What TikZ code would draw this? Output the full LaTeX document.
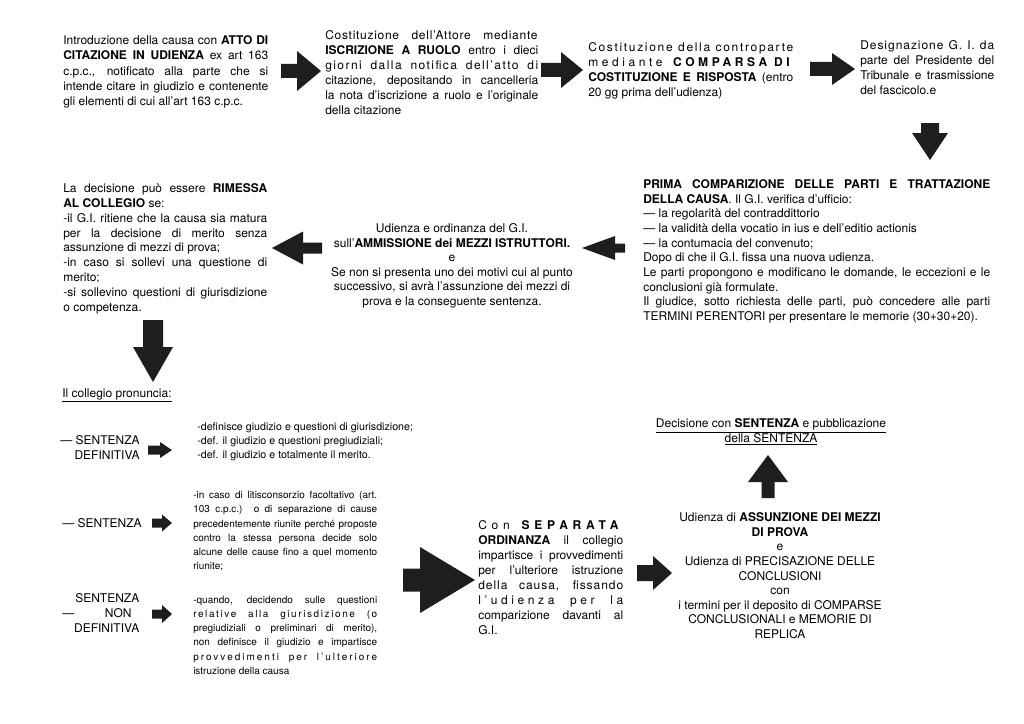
\documentclass[tikz,border=0pt]{standalone}
\usepackage{fontspec}
\setmainfont{TeX Gyre Heros}
\usepackage{tikz}
\hyphenpenalty=10000
\exhyphenpenalty=10000

\definecolor{arrowgray}{HTML}{1E1E1E}
\newcommand{\spaced}[2]{{\addfontfeature{LetterSpace=#1}#2}}

% block arrow: tail x, tail y, angle, length, head length, head half width, shaft half width
\newcommand{\blockarrow}[7]{%
\begin{scope}[shift={(#1,#2)}, rotate=#3]
\fill [arrowgray] (0,-#7) -- ({#4-#5},-#7) -- ({#4-#5},-#6) -- (#4,0) -- ({#4-#5},#6) -- ({#4-#5},#7) -- (0,#7) -- cycle;
\end{scope}}

\begin{document}
\begin{tikzpicture}[x=0.75pt, y=-0.75pt,
  txt/.style={font=\fontsize{9}{11.25}\selectfont, inner sep=0pt, align=justify, anchor=north west},
  lbl/.style={font=\fontsize{9}{11.1}\selectfont, inner sep=0pt},
  small/.style={font=\fontsize{7.5}{10.7}\selectfont, inner sep=0pt, anchor=north west}]
\useasboundingbox [fill=white] (0, 0) rectangle (1024, 724);

% first row
\node [txt, text width=153.75pt, font=\fontsize{9}{11.5}\selectfont] (citazione) at (63, 35.5) {Introduzione della causa con \textbf{ATTO DI}\linebreak \textbf{CITAZIONE IN UDIENZA} ex art 163\linebreak c.p.c., notificato alla parte che si\linebreak intende citare in giudizio e contenente\linebreak gli elementi di cui all’art 163 c.p.c.};
\node [txt, text width=159.75pt] (ruolo) at (325, 30.5) {\spaced{6}{Costituzione dell’Attore mediante}\linebreak \textbf{ISCRIZIONE A RUOLO} entro i dieci\linebreak \spaced{12}{giorni dalla notifica dell’atto di}\linebreak citazione, depositando in cancelleria\linebreak la nota d’iscrizione a ruolo e l’originale\linebreak della citazione};
\node [txt, text width=153.75pt] (comparsa) at (588, 42.5) {\spaced{14}{Costituzione della controparte}\linebreak \spaced{30}{mediante \textbf{COMPARSA DI}}\linebreak \textbf{COSTITUZIONE E RISPOSTA} (entro\linebreak 20 gg prima dell’udienza)};
\node [txt, text width=100.5pt] (designazione) at (860, 40.5) {\spaced{8}{Designazione G. I. da}\linebreak parte del Presidente del\linebreak Tribunale e trasmissione\linebreak del fascicolo.e};

\blockarrow{281}{71}{0}{40}{24}{20}{7}
\blockarrow{541}{70}{0}{42}{22}{18}{7}
\blockarrow{810}{69}{0}{45}{23}{16}{7}
\blockarrow{930}{123}{270}{37}{27}{18}{9}

% second row
\node [txt, text width=260.25pt, font=\fontsize{9}{11}\selectfont] (prima) at (643, 179.5) {\textbf{PRIMA COMPARIZIONE DELLE PARTI E TRATTAZIONE}\linebreak \textbf{DELLA CAUSA}. Il G.I. verifica d’ufficio:\\ — la regolarità del contraddittorio\\ — la validità della vocatio in ius e dell’editio actionis\\ — la contumacia del convenuto;\\ Dopo di che il G.I. fissa una nuova udienza.\\ Le parti propongono e modificano le domande, le eccezioni e le\linebreak conclusioni già formulate.\\ Il giudice, sotto richiesta delle parti, può concedere alle parti\linebreak TERMINI PERENTORI per presentare le memorie (30+30+20).};
\node [lbl, align=center, anchor=north, font=\fontsize{9}{10.9}\selectfont] (ammissione) at (452, 223.5) {Udienza e ordinanza del G.I.\\ sull’\textbf{AMMISSIONE dei MEZZI ISTRUTTORI.}\\ e\\ Se non si presenta uno dei motivi cui al punto\\ successivo, si avrà l’assunzione dei mezzi di\\ prova e la conseguente sentenza.};
\node [txt, text width=153pt, font=\fontsize{9}{11.1}\selectfont] (rimessa) at (63, 183.5) {La decisione può essere \textbf{RIMESSA}\linebreak \textbf{AL COLLEGIO} se:\\ -il G.I. ritiene che la causa sia matura\linebreak per la decisione di merito senza\linebreak assunzione di mezzi di prova;\\ -in caso si sollevi una questione di\linebreak merito;\\ -si sollevino questioni di giurisdizione\linebreak o competenza.};

\blockarrow{625}{248}{180}{43}{33}{12}{4.5}
\blockarrow{322}{248}{180}{50}{31}{16.5}{5.5}
\blockarrow{153}{320}{270}{62}{35}{20}{10}

% collegio
\node [lbl, anchor=base west] (collegio) at (62, 397) {\underline{Il collegio pronuncia:}};
\node [lbl, align=right, anchor=north east] (definitiva) at (140, 435.5) {— SENTENZA\\ DEFINITIVA};
\node [small, align=left, font=\fontsize{8}{10.5}\selectfont] (definisce) at (197, 422) {-definisce giudizio e questioni di giurisdizione;\\ -def. il giudizio e questioni pregiudiziali;\\ -def. il giudizio e totalmente il merito.};
\node [lbl, anchor=base west] (sentenza) at (62, 527) {— SENTENZA};
\node [small, text width=138pt, align=justify] (litis) at (193, 491) {-in caso di litisconsorzio facoltativo (art.\linebreak 103 c.p.c.) o di separazione di cause\linebreak precedentemente riunite perché proposte\linebreak contro la stessa persona decide solo\linebreak alcune delle cause fino a quel momento\linebreak riunite;};
\node [lbl, text width=57.75pt, align=right, anchor=north west] (nondefinitiva) at (62, 593.5) {SENTENZA\\ \makebox[\linewidth][l]{—\hspace{23pt}NON}\\ DEFINITIVA};
\node [small, text width=138pt, align=justify] (quando) at (193, 595.5) {-quando, decidendo sulle questioni\linebreak \spaced{16}{relative alla giurisdizione (o}\linebreak pregiudiziali o preliminari di merito),\linebreak non definisce il giudizio e impartisce\linebreak \spaced{20}{provvedimenti per l’ulteriore}\linebreak istruzione della causa};

\blockarrow{148}{450}{0}{24}{12}{8}{4.5}
\blockarrow{152}{523}{0}{20}{10}{8.5}{4.5}
\blockarrow{152}{614}{0}{20}{10}{9}{4.5}

% third column
\node [txt, text width=108.75pt] (separata) at (478, 520.5) {\spaced{40}{Con \textbf{SEPARATA}}\linebreak \textbf{ORDINANZA} il collegio\linebreak impartisce i provvedimenti\linebreak per l’ulteriore istruzione\linebreak \spaced{8}{della causa, fissando}\linebreak \spaced{30}{l’udienza per la}\linebreak comparizione davanti al\linebreak G.I.};
\node [lbl, align=center, anchor=north] (decisione) at (771, 418.5) {\underline{Decisione con \textbf{SENTENZA} e pubblicazione}\\ \underline{della SENTENZA}};
\node [lbl, align=center, anchor=north, font=\fontsize{9}{10.95}\selectfont] (assunzione) at (780, 512.5) {Udienza di \textbf{ASSUNZIONE DEI MEZZI}\\ \textbf{DI PROVA}\\ e\\ Udienza di PRECISAZIONE DELLE\\ CONCLUSIONI\\ con\\ i termini per il deposito di COMPARSE\\ CONCLUSIONALI e MEMORIE DI\\ REPLICA};

\blockarrow{403}{580}{0}{72}{55}{33}{11.5}
\blockarrow{637}{573}{0}{35}{19}{17}{8}
\blockarrow{768}{498}{90}{43}{27}{20}{6.5}
\end{tikzpicture}
\end{document}
